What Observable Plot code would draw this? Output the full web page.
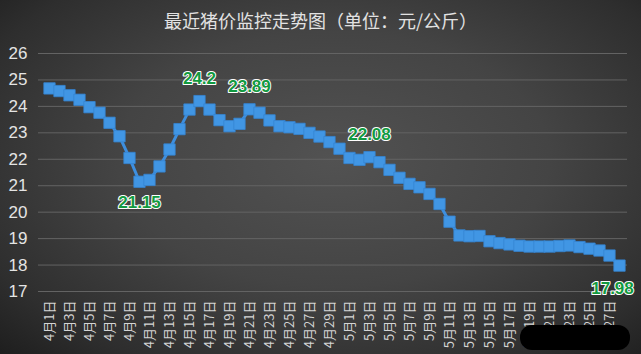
<!DOCTYPE html>
<html><head><meta charset="utf-8">
<script src="https://cdn.jsdelivr.net/npm/d3@7"></script>
<script src="https://cdn.jsdelivr.net/npm/@observablehq/plot@0.6"></script>
<style>
html,body{margin:0;padding:0;background:#1e1e1e}
#wrap{position:relative;width:641px;height:354px;overflow:hidden;
 background:radial-gradient(ellipse 75% 80% at 52% 45%, #525252 0%, #444 45%, #2e2e2e 80%, #1c1c1c 100%);}
#title{position:absolute;left:0;top:7px;width:641px;text-align:center;line-height:26px;
 font-family:"Noto Sans CJK SC","Noto Sans",sans-serif;font-size:18px;color:#e2e2e2;}
#wrap svg{position:absolute;left:0;top:0}
#blot{position:absolute;left:520px;top:325px;width:110px;height:25px;background:#000;border-radius:12px}
</style></head>
<body>
<div id="wrap"><div id="title">最近猪价监控走势图（单位：元/公斤）</div></div>
<script>
const dates = [
 "4月1日","4月2日","4月3日","4月4日","4月5日","4月6日","4月7日","4月8日","4月9日","4月10日",
 "4月11日","4月12日","4月13日","4月14日","4月15日","4月16日","4月17日","4月18日","4月19日","4月20日",
 "4月21日","4月22日","4月23日","4月24日","4月25日","4月26日","4月27日","4月28日","4月29日","4月30日",
 "5月1日","5月2日","5月3日","5月4日","5月5日","5月6日","5月7日","5月8日","5月9日","5月10日",
 "5月11日","5月12日","5月13日","5月14日","5月15日","5月16日","5月17日","5月18日","5月19日","5月20日",
 "5月21日","5月22日","5月23日","5月24日","5月25日","5月26日","5月27日","5月28日"
];
const prices = [
 24.68,24.58,24.42,24.25,23.97,23.76,23.38,22.87,22.05,21.15,
 21.22,21.73,22.37,23.14,23.88,24.2,23.88,23.48,23.25,23.34,
 23.89,23.76,23.47,23.25,23.21,23.15,23.0,22.86,22.65,22.4,
 22.05,21.98,22.08,21.89,21.6,21.3,21.07,20.94,20.69,20.31,
 19.64,19.12,19.09,19.1,18.9,18.83,18.78,18.73,18.7,18.7,
 18.7,18.72,18.74,18.68,18.62,18.55,18.36,17.98
];
const tickDates = [
 "4月1日","4月3日","4月5日","4月7日","4月9日","4月11日","4月13日","4月15日","4月17日","4月19日",
 "4月21日","4月23日","4月25日","4月27日","4月29日","5月1日","5月3日","5月5日","5月7日","5月9日",
 "5月11日","5月13日","5月15日","5月17日","5月19日","5月21日","5月23日","5月25日","5月27日"
];
const yTicks = [17,18,19,20,21,22,23,24,25,26];
const labelAbove = ["4月16日","4月21日","5月3日"];
const labelBelow = ["4月10日"];
const labelLast = ["5月28日"];

const data = dates.map((d,i)=>({date:d, price:prices[i]}));
const pick = arr => data.filter(r => arr.includes(r.date));
const lbl = {x:"date", y:"price", text: r => String(r.price), fontSize:17, fontWeight:"bold",
  fontFamily:"Liberation Sans, Arial, sans-serif", fill:"#129a40", stroke:"#ffffff", strokeWidth:2, paintOrder:"stroke"};

const chart = Plot.plot({
  width: 641, height: 354,
  marginTop: 53, marginBottom: 63, marginLeft: 47, marginRight: 20,
  style: {background:"transparent", color:"#dcdcdc", fontFamily:"Liberation Sans, 'Noto Sans CJK SC', sans-serif"},
  x: {type:"point", domain: dates, padding: 0, label: null},
  y: {domain:[17,26], label: null},
  marks: [
    Plot.ruleY(yTicks, {stroke:"#636363", strokeWidth:1, insetLeft:-9, insetRight:-6}),
    Plot.axisY({ticks: yTicks, tickSize:0, tickPadding:0, textAnchor:"start", dx:-39, fontSize:17, label:null, fill:"#e4e4e4"}),
    Plot.axisX({ticks: tickDates, tickSize:0, tickPadding:9, tickRotate:-90, fontSize:13, label:null,
      fontFamily:"'Noto Sans CJK SC', sans-serif", fill:"#d4d4d4"}),
    Plot.line(data, {x:"date", y:"price", stroke:"#3e8fdf", strokeWidth:3}),
    Plot.dot(data, {x:"date", y:"price", symbol:"square", r:6.4, fill:"#4196e4", stroke:"#3584d2", strokeWidth:0.8}),
    Plot.text(pick(labelAbove), {...lbl, dy:-23}),
    Plot.text(pick(labelBelow), {...lbl, dy:21}),
    Plot.text(pick(labelLast), {...lbl, dy:23, dx:-7})
  ]
});
document.getElementById("wrap").appendChild(chart);
const blot = document.createElement("div"); blot.id = "blot";
document.getElementById("wrap").appendChild(blot);
</script>
</body></html>
